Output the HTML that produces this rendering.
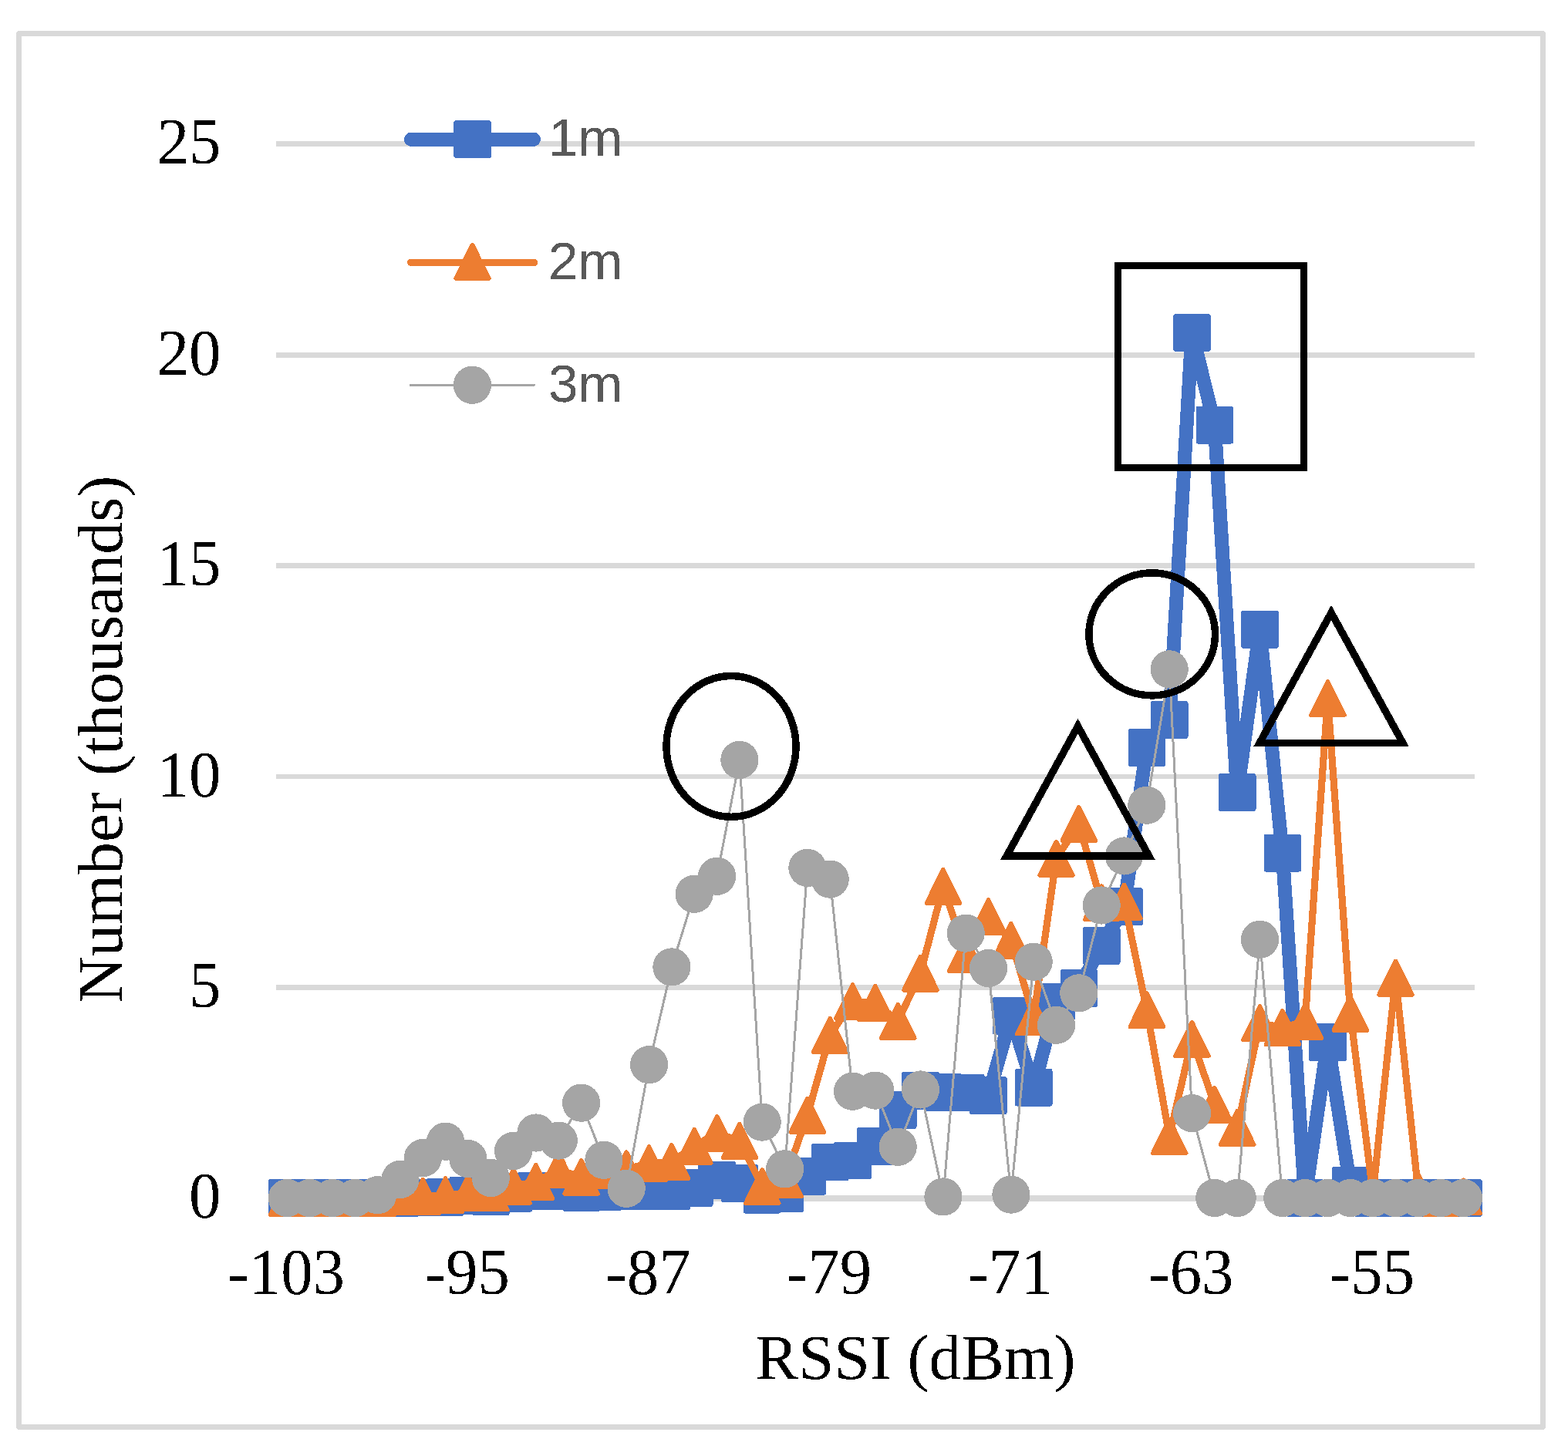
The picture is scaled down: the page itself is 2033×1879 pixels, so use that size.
<!DOCTYPE html>
<html lang="en"><head><meta charset="utf-8"><title>RSSI histogram</title>
<style>
html,body{margin:0;padding:0;background:#fff;}
body{width:2033px;height:1879px;overflow:hidden;}
svg{display:block;}
.ax{font-family:"Liberation Serif","DejaVu Serif",serif;font-size:83.5px;fill:#000;}
.tk{font-family:"Liberation Serif","DejaVu Serif",serif;font-size:85px;fill:#000;}
.lg{font-family:"Liberation Sans","DejaVu Sans",sans-serif;font-size:69.3px;fill:#595959;}
</style></head><body>
<svg width="2033" height="1879" viewBox="0 0 2033 1879" shape-rendering="crispEdges">
<defs><filter id="bw" x="-5%" y="-20%" width="110%" height="140%" color-interpolation-filters="sRGB"><feComponentTransfer><feFuncA type="discrete" tableValues="0 1"/></feComponentTransfer></filter></defs>
<rect width="2033" height="1879" fill="#fff"/>
<rect x="24.4" y="43.5" width="1976.1" height="1806.8" fill="none" stroke="#D9D9D9" stroke-width="6.8" stroke-linejoin="round"/>
<g stroke="#D9D9D9" stroke-width="6.7">
<line x1="358" y1="186.5" x2="1912" y2="186.5"/>
<line x1="358" y1="460.5" x2="1912" y2="460.5"/>
<line x1="358" y1="733.3" x2="1912" y2="733.3"/>
<line x1="358" y1="1007" x2="1912" y2="1007"/>
<line x1="358" y1="1280.5" x2="1912" y2="1280.5"/>
<line x1="358" y1="1553.9" x2="1912" y2="1553.9" stroke-width="7.8"/>
</g>
<g class="tk" text-anchor="end" filter="url(#bw)">
<text transform="translate(286.5 212.1) scale(0.975 1)">25</text>
<text transform="translate(286.5 486.1) scale(0.975 1)">20</text>
<text transform="translate(286.5 758.9) scale(0.975 1)">15</text>
<text transform="translate(286.5 1032.6) scale(0.975 1)">10</text>
<text transform="translate(286.5 1306.1) scale(0.975 1)">5</text>
<text transform="translate(286.5 1579.1) scale(0.975 1)">0</text>
</g>
<g class="tk" text-anchor="middle" filter="url(#bw)">
<text transform="translate(371.1 1678.3) scale(0.975 1)">-103</text>
<text transform="translate(605.7 1678.3) scale(0.975 1)">-95</text>
<text transform="translate(840.4 1678.3) scale(0.975 1)">-87</text>
<text transform="translate(1075 1678.3) scale(0.975 1)">-79</text>
<text transform="translate(1309.7 1678.3) scale(0.975 1)">-71</text>
<text transform="translate(1544.3 1678.3) scale(0.975 1)">-63</text>
<text transform="translate(1778.9 1678.3) scale(0.975 1)">-55</text>
</g>
<text class="ax" x="1187" y="1788" text-anchor="middle" filter="url(#bw)">RSSI (dBm)</text>
<g filter="url(#bw)"><text class="ax" transform="translate(158.3 958.8) rotate(-90)" text-anchor="middle">Number (thousands)</text></g>
<g stroke-linecap="round" fill="none">
<line x1="533" y1="180.8" x2="692" y2="180.8" stroke="#4472C4" stroke-width="18"/>
<line x1="532.6" y1="340.4" x2="692.6" y2="340.4" stroke="#ED7D31" stroke-width="9.2"/>
<line x1="532.6" y1="499.3" x2="692.2" y2="499.3" stroke="#A5A5A5" stroke-width="3.2"/>
</g>
<path d="M591.1 159.1h43v43h-43z" fill="#4472C4" stroke="#4472C4" stroke-width="5.6" stroke-linejoin="round"/>
<path d="M612.5 317.6L634 361L591 361z" fill="#ED7D31" stroke="#ED7D31" stroke-width="5.6" stroke-linejoin="round"/>
<circle cx="612.4" cy="499.3" r="24.6" fill="#A5A5A5"/>
<g class="lg" filter="url(#bw)">
<text x="711" y="202.1">1m</text>
<text x="711" y="361.8">2m</text>
<text x="711" y="521.1">3m</text>
</g>
<polyline points="372.3,1553.5 401.6,1553.5 431,1553.5 460.3,1553.5 489.6,1553.5 519,1553.5 548.3,1553 577.6,1552.4 606.9,1550.2 636.3,1551.7 665.6,1547.5 694.9,1544.5 724.3,1544.2 753.6,1546.6 782.9,1545.3 812.2,1544.5 841.6,1544.5 870.9,1544.5 900.2,1540.5 929.6,1530.3 958.9,1534.4 988.2,1549.3 1017.6,1548.1 1046.9,1525.3 1076.2,1507 1105.5,1504.8 1134.9,1486.5 1164.2,1439.5 1193.5,1414.3 1222.9,1416.3 1252.2,1416.8 1281.5,1420.6 1310.9,1317.3 1340.2,1410.2 1369.5,1299.2 1398.8,1281.5 1428.2,1226.5 1457.5,1175.7 1486.8,969.5 1516.2,933.4 1545.5,431.5 1574.8,551.2 1604.2,1027.5 1633.5,816.4 1662.8,1106.2 1692.1,1553.5 1721.5,1351.7 1750.8,1537.6 1780.1,1553.5 1809.5,1553.5 1838.8,1553.5 1868.1,1553.5 1897.5,1553.5" fill="none" stroke="#4472C4" stroke-width="18" stroke-linejoin="round" stroke-linecap="round"/>
<path d="M350.8 1532h43v43h-43zM380.1 1532h43v43h-43zM409.5 1532h43v43h-43zM438.8 1532h43v43h-43zM468.1 1532h43v43h-43zM497.5 1532h43v43h-43zM526.8 1531.5h43v43h-43zM556.1 1530.9h43v43h-43zM585.4 1528.7h43v43h-43zM614.8 1530.2h43v43h-43zM644.1 1526h43v43h-43zM673.4 1523h43v43h-43zM702.8 1522.7h43v43h-43zM732.1 1525.1h43v43h-43zM761.4 1523.8h43v43h-43zM790.8 1523h43v43h-43zM820.1 1523h43v43h-43zM849.4 1523h43v43h-43zM878.7 1519h43v43h-43zM908.1 1508.8h43v43h-43zM937.4 1512.9h43v43h-43zM966.7 1527.8h43v43h-43zM996.1 1526.6h43v43h-43zM1025.4 1503.8h43v43h-43zM1054.7 1485.5h43v43h-43zM1084 1483.3h43v43h-43zM1113.4 1465h43v43h-43zM1142.7 1418h43v43h-43zM1172 1392.8h43v43h-43zM1201.4 1394.8h43v43h-43zM1230.7 1395.3h43v43h-43zM1260 1399.1h43v43h-43zM1289.4 1295.8h43v43h-43zM1318.7 1388.7h43v43h-43zM1348 1277.7h43v43h-43zM1377.3 1260h43v43h-43zM1406.7 1205h43v43h-43zM1436 1154.2h43v43h-43zM1465.3 948h43v43h-43zM1494.7 911.9h43v43h-43zM1524 410h43v43h-43zM1553.3 529.7h43v43h-43zM1582.7 1006h43v43h-43zM1612 794.9h43v43h-43zM1641.3 1084.7h43v43h-43zM1670.6 1532h43v43h-43zM1700 1330.2h43v43h-43zM1729.3 1516.1h43v43h-43zM1758.6 1532h43v43h-43zM1788 1532h43v43h-43zM1817.3 1532h43v43h-43zM1846.6 1532h43v43h-43zM1876 1532h43v43h-43z" fill="#4472C4" stroke="#4472C4" stroke-width="5.6" stroke-linejoin="round"/>
<polyline points="372.3,1553.5 401.6,1553.5 431,1553.5 460.3,1553.5 489.6,1553.5 519,1551.9 548.3,1551.3 577.6,1549.7 606.9,1546.9 636.3,1546.9 665.6,1538.4 694.9,1532.3 724.3,1516.9 753.6,1526.4 782.9,1517.1 812.2,1515.8 841.6,1508.7 870.9,1506.5 900.2,1486.4 929.6,1469.3 958.9,1479.4 988.2,1538.7 1017.6,1529.6 1046.9,1446.3 1076.2,1342.4 1105.5,1298.7 1134.9,1300.3 1164.2,1324.4 1193.5,1262.1 1222.9,1149.4 1252.2,1237.4 1281.5,1188.5 1310.9,1219.4 1340.2,1318.9 1369.5,1113.3 1398.8,1068.5 1428.2,1170.7 1457.5,1169.1 1486.8,1309.6 1516.2,1473.7 1545.5,1347.4 1574.8,1432.7 1604.2,1462.5 1633.5,1326.6 1662.8,1332.6 1692.1,1324.4 1721.5,905.5 1750.8,1314.5 1780.1,1547.5 1809.5,1268.1 1838.8,1544.2 1868.1,1553.5 1897.5,1551.9" fill="none" stroke="#ED7D31" stroke-width="9.2" stroke-linejoin="round" stroke-linecap="round"/>
<path d="M372.3 1531.8L393.8 1575.2L350.8 1575.2zM401.6 1531.8L423.1 1575.2L380.1 1575.2zM431 1531.8L452.5 1575.2L409.5 1575.2zM460.3 1531.8L481.8 1575.2L438.8 1575.2zM489.6 1531.8L511.1 1575.2L468.1 1575.2zM519 1530.2L540.5 1573.6L497.5 1573.6zM548.3 1529.6L569.8 1573L526.8 1573zM577.6 1528L599.1 1571.4L556.1 1571.4zM606.9 1525.2L628.4 1568.6L585.4 1568.6zM636.3 1525.2L657.8 1568.6L614.8 1568.6zM665.6 1516.7L687.1 1560.1L644.1 1560.1zM694.9 1510.6L716.4 1554L673.4 1554zM724.3 1495.2L745.8 1538.6L702.8 1538.6zM753.6 1504.7L775.1 1548.1L732.1 1548.1zM782.9 1495.4L804.4 1538.8L761.4 1538.8zM812.2 1494.1L833.8 1537.5L790.8 1537.5zM841.6 1487L863.1 1530.4L820.1 1530.4zM870.9 1484.8L892.4 1528.2L849.4 1528.2zM900.2 1464.7L921.7 1508.1L878.7 1508.1zM929.6 1447.6L951.1 1491L908.1 1491zM958.9 1457.7L980.4 1501.1L937.4 1501.1zM988.2 1517L1009.7 1560.4L966.7 1560.4zM1017.6 1507.9L1039.1 1551.3L996.1 1551.3zM1046.9 1424.6L1068.4 1468L1025.4 1468zM1076.2 1320.7L1097.7 1364.1L1054.7 1364.1zM1105.5 1277L1127 1320.4L1084 1320.4zM1134.9 1278.6L1156.4 1322L1113.4 1322zM1164.2 1302.7L1185.7 1346.1L1142.7 1346.1zM1193.5 1240.4L1215 1283.8L1172 1283.8zM1222.9 1127.7L1244.4 1171.1L1201.4 1171.1zM1252.2 1215.7L1273.7 1259.1L1230.7 1259.1zM1281.5 1166.8L1303 1210.2L1260 1210.2zM1310.9 1197.7L1332.4 1241.1L1289.4 1241.1zM1340.2 1297.2L1361.7 1340.6L1318.7 1340.6zM1369.5 1091.6L1391 1135L1348 1135zM1398.8 1046.8L1420.3 1090.2L1377.3 1090.2zM1428.2 1149L1449.7 1192.4L1406.7 1192.4zM1457.5 1147.4L1479 1190.8L1436 1190.8zM1486.8 1287.9L1508.3 1331.3L1465.3 1331.3zM1516.2 1452L1537.7 1495.4L1494.7 1495.4zM1545.5 1325.7L1567 1369.1L1524 1369.1zM1574.8 1411L1596.3 1454.4L1553.3 1454.4zM1604.2 1440.8L1625.7 1484.2L1582.7 1484.2zM1633.5 1304.9L1655 1348.3L1612 1348.3zM1662.8 1310.9L1684.3 1354.3L1641.3 1354.3zM1692.1 1302.7L1713.6 1346.1L1670.6 1346.1zM1721.5 883.8L1743 927.2L1700 927.2zM1750.8 1292.8L1772.3 1336.2L1729.3 1336.2zM1780.1 1525.8L1801.6 1569.2L1758.6 1569.2zM1809.5 1246.4L1831 1289.8L1788 1289.8zM1838.8 1522.5L1860.3 1565.9L1817.3 1565.9zM1868.1 1531.8L1889.6 1575.2L1846.6 1575.2zM1897.5 1530.2L1919 1573.6L1876 1573.6z" fill="#ED7D31" stroke="#ED7D31" stroke-width="5.6" stroke-linejoin="round"/>
<polyline points="372.3,1553.5 401.6,1553.5 431,1553.5 460.3,1553.5 489.6,1549.7 519,1529.4 548.3,1501.6 577.6,1480.2 606.9,1502.6 636.3,1527.5 665.6,1492.5 694.9,1469 724.3,1479.1 753.6,1430.2 782.9,1504.3 812.2,1541.3 841.6,1380.7 870.9,1253.9 900.2,1159.3 929.6,1136.3 958.9,985.4 988.2,1455.1 1017.6,1515.8 1046.9,1125.4 1076.2,1140.1 1105.5,1415.2 1134.9,1414.1 1164.2,1487.3 1193.5,1413 1222.9,1551.9 1252.2,1210.1 1281.5,1255.5 1310.9,1549.1 1340.2,1247.3 1369.5,1329.3 1398.8,1287.8 1428.2,1174 1457.5,1110 1486.8,1044.2 1516.2,867.8 1545.5,1443.6 1574.8,1553.5 1604.2,1553.5 1633.5,1218.3 1662.8,1553.5 1692.1,1553.5 1721.5,1553.5 1750.8,1553.5 1780.1,1553.5 1809.5,1553.5 1838.8,1553.5 1868.1,1553.5 1897.5,1553.5" fill="none" stroke="#A5A5A5" stroke-width="3" stroke-linejoin="round" stroke-linecap="round"/>
<g fill="#A5A5A5">
<circle cx="372.3" cy="1553.5" r="24.6"/>
<circle cx="401.6" cy="1553.5" r="24.6"/>
<circle cx="431" cy="1553.5" r="24.6"/>
<circle cx="460.3" cy="1553.5" r="24.6"/>
<circle cx="489.6" cy="1549.7" r="24.6"/>
<circle cx="519" cy="1529.4" r="24.6"/>
<circle cx="548.3" cy="1501.6" r="24.6"/>
<circle cx="577.6" cy="1480.2" r="24.6"/>
<circle cx="606.9" cy="1502.6" r="24.6"/>
<circle cx="636.3" cy="1527.5" r="24.6"/>
<circle cx="665.6" cy="1492.5" r="24.6"/>
<circle cx="694.9" cy="1469" r="24.6"/>
<circle cx="724.3" cy="1479.1" r="24.6"/>
<circle cx="753.6" cy="1430.2" r="24.6"/>
<circle cx="782.9" cy="1504.3" r="24.6"/>
<circle cx="812.2" cy="1541.3" r="24.6"/>
<circle cx="841.6" cy="1380.7" r="24.6"/>
<circle cx="870.9" cy="1253.9" r="24.6"/>
<circle cx="900.2" cy="1159.3" r="24.6"/>
<circle cx="929.6" cy="1136.3" r="24.6"/>
<circle cx="958.9" cy="985.4" r="24.6"/>
<circle cx="988.2" cy="1455.1" r="24.6"/>
<circle cx="1017.6" cy="1515.8" r="24.6"/>
<circle cx="1046.9" cy="1125.4" r="24.6"/>
<circle cx="1076.2" cy="1140.1" r="24.6"/>
<circle cx="1105.5" cy="1415.2" r="24.6"/>
<circle cx="1134.9" cy="1414.1" r="24.6"/>
<circle cx="1164.2" cy="1487.3" r="24.6"/>
<circle cx="1193.5" cy="1413" r="24.6"/>
<circle cx="1222.9" cy="1551.9" r="24.6"/>
<circle cx="1252.2" cy="1210.1" r="24.6"/>
<circle cx="1281.5" cy="1255.5" r="24.6"/>
<circle cx="1310.9" cy="1549.1" r="24.6"/>
<circle cx="1340.2" cy="1247.3" r="24.6"/>
<circle cx="1369.5" cy="1329.3" r="24.6"/>
<circle cx="1398.8" cy="1287.8" r="24.6"/>
<circle cx="1428.2" cy="1174" r="24.6"/>
<circle cx="1457.5" cy="1110" r="24.6"/>
<circle cx="1486.8" cy="1044.2" r="24.6"/>
<circle cx="1516.2" cy="867.8" r="24.6"/>
<circle cx="1545.5" cy="1443.6" r="24.6"/>
<circle cx="1574.8" cy="1553.5" r="24.6"/>
<circle cx="1604.2" cy="1553.5" r="24.6"/>
<circle cx="1633.5" cy="1218.3" r="24.6"/>
<circle cx="1662.8" cy="1553.5" r="24.6"/>
<circle cx="1692.1" cy="1553.5" r="24.6"/>
<circle cx="1721.5" cy="1553.5" r="24.6"/>
<circle cx="1750.8" cy="1553.5" r="24.6"/>
<circle cx="1780.1" cy="1553.5" r="24.6"/>
<circle cx="1809.5" cy="1553.5" r="24.6"/>
<circle cx="1838.8" cy="1553.5" r="24.6"/>
<circle cx="1868.1" cy="1553.5" r="24.6"/>
<circle cx="1897.5" cy="1553.5" r="24.6"/>
</g>
<g fill="none" stroke="#000" stroke-width="9.5" stroke-miterlimit="10">
<rect x="1449.7" y="344.6" width="240.6" height="261.8"/>
<ellipse cx="948.0" cy="967.9" rx="84.0" ry="91.4"/>
<ellipse cx="1493.7" cy="822.4" rx="81.8" ry="79.5"/>
<path d="M1397.5 941.7L1489.7 1110L1305.2 1110z"/>
<path d="M1726 794.6L1818.9 963.5L1633.1 963.5z"/>
</g>
</svg>
</body></html>
